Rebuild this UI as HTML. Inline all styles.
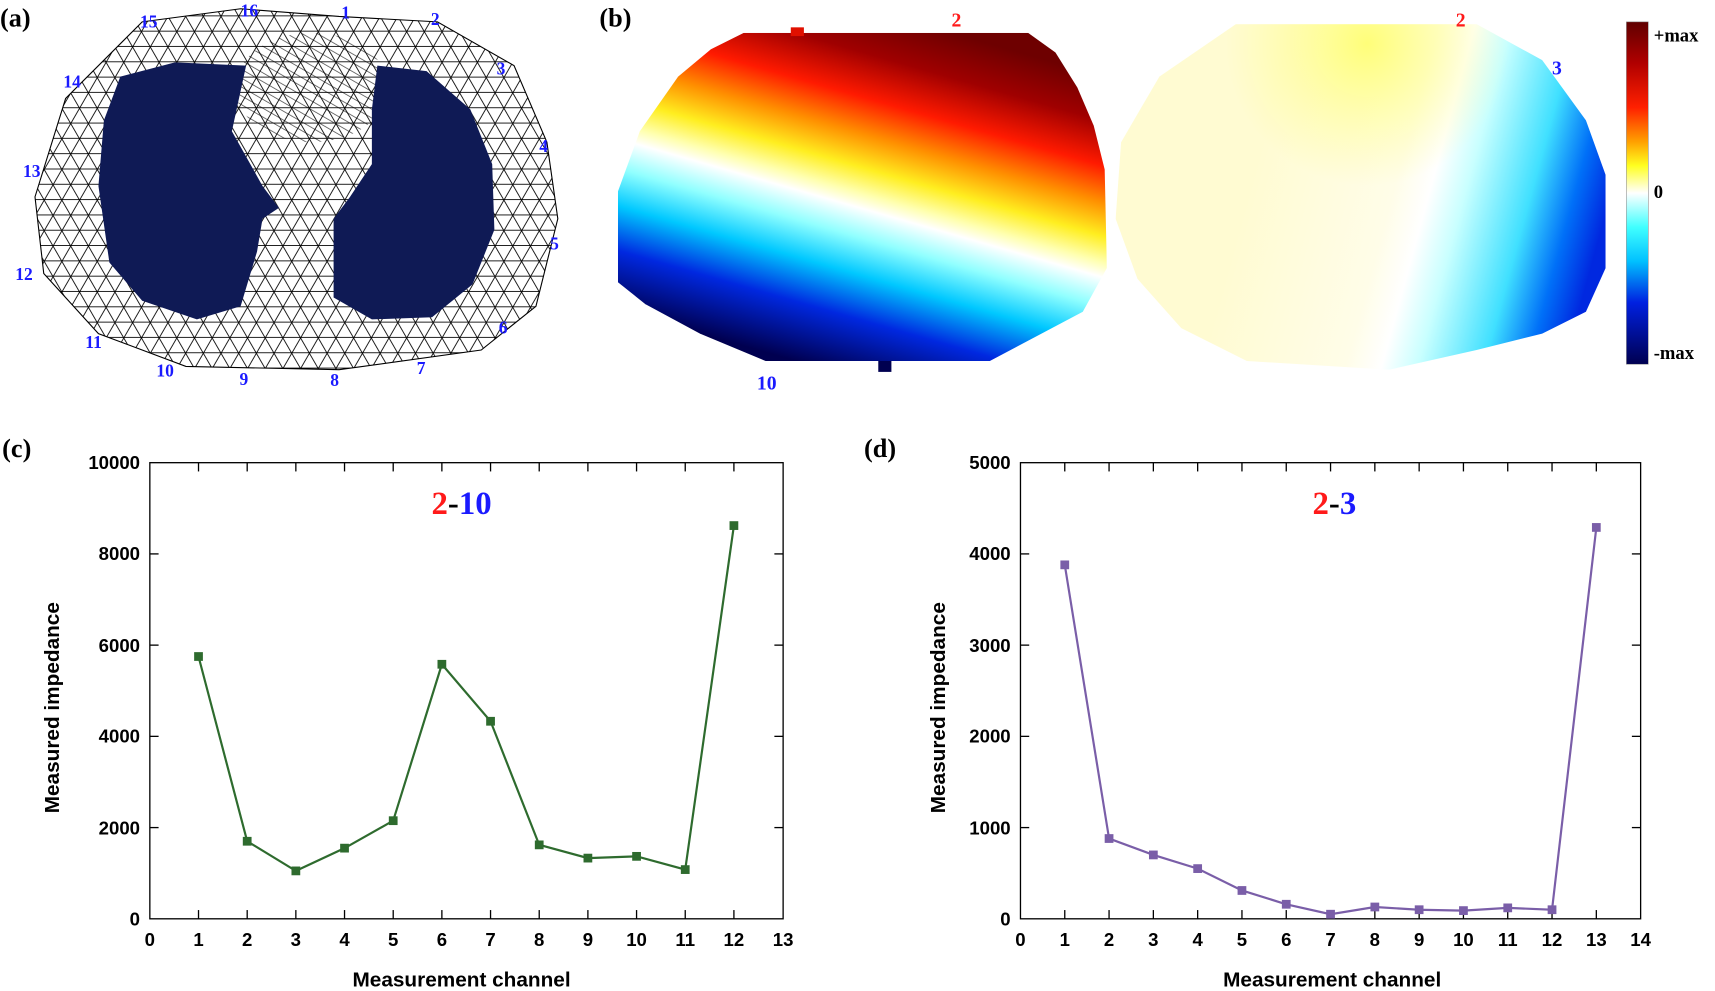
<!DOCTYPE html>
<html><head><meta charset="utf-8"><style>
html,body{margin:0;padding:0;background:#fff;}
svg{display:block;}
.t{font-family:"Liberation Serif",serif;font-weight:bold;}
.s{font-family:"Liberation Sans",sans-serif;font-weight:bold;}
</style></head><body>
<svg width="1715" height="991" viewBox="0 0 1568 906" preserveAspectRatio="none" xmlns="http://www.w3.org/2000/svg">
<defs>
<pattern id="p1" width="16" height="14" patternUnits="userSpaceOnUse"><line x1="0" y1="0.5" x2="16" y2="0.5" stroke="#000" stroke-width="0.7"/></pattern>
<pattern id="p2" width="16" height="14" patternUnits="userSpaceOnUse" patternTransform="rotate(60)"><line x1="0" y1="0.5" x2="16" y2="0.5" stroke="#000" stroke-width="0.7"/></pattern>
<pattern id="p3" width="16" height="14" patternUnits="userSpaceOnUse" patternTransform="rotate(-60)"><line x1="0" y1="0.5" x2="16" y2="0.5" stroke="#000" stroke-width="0.7"/></pattern>
<pattern id="p4" width="8" height="7" patternUnits="userSpaceOnUse" patternTransform="rotate(30)"><line x1="0" y1="0.5" x2="8" y2="0.5" stroke="#000" stroke-width="0.5"/></pattern>
<clipPath id="torso"><polygon points="130,20 220,8 310,15 400,20 470,60 500,130 510,200 490,280 440,320 310,338 170,335 90,305 40,250 32,180 60,90"/></clipPath>
<clipPath id="cl1"><polygon points="680,30 940,30 965,48 985,80 1000,115 1010,155 1012,245 990,285 905,330 700,330 640,305 590,278 565,258 565,175 585,120 620,70 650,45"/></clipPath>
<clipPath id="cl2"><polygon points="1130,22 1350,22 1410,55 1450,110 1468,160 1468,245 1450,285 1410,305 1350,320 1270,338 1140,330 1080,300 1040,255 1020,200 1025,130 1060,70"/></clipPath>
<linearGradient id="g1" gradientUnits="userSpaceOnUse" x1="870" y1="30" x2="780" y2="345">
<stop offset="0" stop-color="#6e0000"/><stop offset="0.12" stop-color="#a00000"/><stop offset="0.24" stop-color="#ff1a00"/><stop offset="0.34" stop-color="#ff9000"/><stop offset="0.43" stop-color="#ffee20"/><stop offset="0.5" stop-color="#ffffb0"/><stop offset="0.54" stop-color="#ffffff"/><stop offset="0.62" stop-color="#90ffff"/><stop offset="0.72" stop-color="#00c8ff"/><stop offset="0.84" stop-color="#0028e0"/><stop offset="1" stop-color="#000050"/></linearGradient>
<linearGradient id="g2" gradientUnits="userSpaceOnUse" x1="1150" y1="140" x2="1460" y2="225">
<stop offset="0" stop-color="#fffbd2"/><stop offset="0.4" stop-color="#fffde8"/><stop offset="0.5" stop-color="#ffffff"/><stop offset="0.6" stop-color="#c8ffff"/><stop offset="0.78" stop-color="#40e0ff"/><stop offset="0.9" stop-color="#0070f8"/><stop offset="1" stop-color="#0028e0"/></linearGradient>
<radialGradient id="g3" gradientUnits="userSpaceOnUse" cx="1250" cy="40" r="130"><stop offset="0" stop-color="#ffff60" stop-opacity="0.8"/><stop offset="1" stop-color="#ffff80" stop-opacity="0"/></radialGradient>
<linearGradient id="cb" x1="0" y1="0" x2="0" y2="1">
<stop offset="0" stop-color="#600000"/><stop offset="0.12" stop-color="#b00000"/><stop offset="0.25" stop-color="#ff2000"/><stop offset="0.35" stop-color="#ffa000"/><stop offset="0.42" stop-color="#ffff20"/><stop offset="0.5" stop-color="#ffffff"/><stop offset="0.6" stop-color="#40ffff"/><stop offset="0.7" stop-color="#00c0ff"/><stop offset="0.82" stop-color="#0020e0"/><stop offset="1" stop-color="#000050"/></linearGradient>
</defs>
<rect width="1568" height="906" fill="#fff"/>
<!-- (a) -->
<g clip-path="url(#torso)">
<rect x="0" y="0" width="540" height="360" fill="url(#p1)"/>
<rect x="0" y="0" width="540" height="360" fill="url(#p2)"/>
<rect x="0" y="0" width="540" height="360" fill="url(#p3)"/>
<ellipse cx="285" cy="80" rx="70" ry="50" fill="url(#p4)"/>
</g>
<polygon points="130,20 220,8 310,15 400,20 470,60 500,130 510,200 490,280 440,320 310,338 170,335 90,305 40,250 32,180 60,90" fill="none" stroke="#000" stroke-width="1"/>
<polygon points="110,70 160,57 225,60 212,120 240,170 255,190 240,200 235,230 220,280 180,292 130,275 100,240 90,170 95,110" fill="#0f1a55"/>
<polygon points="345,60 390,65 430,100 450,150 452,210 432,260 395,290 340,292 305,272 305,200 320,180 340,150 340,100" fill="#0f1a55"/>
<g class="t" fill="#1a1aff" font-size="16">
<text x="312" y="17">1</text><text x="394" y="23">2</text><text x="454" y="68">3</text><text x="493" y="139">4</text><text x="503" y="228">5</text><text x="456" y="305">6</text><text x="381" y="342">7</text><text x="302" y="353">8</text><text x="219" y="352">9</text><text x="143" y="344">10</text><text x="78" y="318">11</text><text x="14" y="256">12</text><text x="21" y="162">13</text><text x="58" y="80">14</text><text x="128" y="25">15</text><text x="220" y="15">16</text>
</g>
<text class="t" x="0" y="24" font-size="24">(a)</text>
<text class="t" x="548" y="24" font-size="24">(b)</text>
<!-- (b) -->
<rect x="560" y="25" width="460" height="320" fill="url(#g1)" clip-path="url(#cl1)"/>
<rect x="723" y="25" width="12" height="8" fill="#e01000"/>
<rect x="803" y="330" width="12" height="10" fill="#000050"/>
<rect x="1015" y="15" width="460" height="330" fill="url(#g2)" clip-path="url(#cl2)"/>
<rect x="1015" y="15" width="460" height="330" fill="url(#g3)" clip-path="url(#cl2)"/>
<text class="t" x="870" y="24" font-size="18" fill="#ff1a1a">2</text>
<text class="t" x="1331" y="24" font-size="18" fill="#ff1a1a">2</text>
<text class="t" x="1419" y="68" font-size="18" fill="#1a1aff">3</text>
<text class="t" x="692" y="356" font-size="18" fill="#1a1aff">10</text>
<rect x="1487" y="20" width="20" height="313" fill="url(#cb)" stroke="#888" stroke-width="0.5"/>
<g class="t" font-size="17"><text x="1512" y="38">+max</text><text x="1512" y="181">0</text><text x="1512" y="328">-max</text></g>
<!-- (c) -->
<text class="t" x="2" y="418" font-size="24">(c)</text>
<rect x="137" y="423" width="579" height="417" fill="none" stroke="#000" stroke-width="1.2"/>
<g stroke="#000" stroke-width="1.2">
<line x1="181.5" y1="423" x2="181.5" y2="431"/><line x1="226" y1="423" x2="226" y2="431"/><line x1="270.5" y1="423" x2="270.5" y2="431"/><line x1="315" y1="423" x2="315" y2="431"/><line x1="359.5" y1="423" x2="359.5" y2="431"/><line x1="404" y1="423" x2="404" y2="431"/><line x1="448.5" y1="423" x2="448.5" y2="431"/><line x1="493" y1="423" x2="493" y2="431"/><line x1="537.5" y1="423" x2="537.5" y2="431"/><line x1="582" y1="423" x2="582" y2="431"/><line x1="626.5" y1="423" x2="626.5" y2="431"/><line x1="671" y1="423" x2="671" y2="431"/>
<line x1="181.5" y1="840" x2="181.5" y2="832"/><line x1="226" y1="840" x2="226" y2="832"/><line x1="270.5" y1="840" x2="270.5" y2="832"/><line x1="315" y1="840" x2="315" y2="832"/><line x1="359.5" y1="840" x2="359.5" y2="832"/><line x1="404" y1="840" x2="404" y2="832"/><line x1="448.5" y1="840" x2="448.5" y2="832"/><line x1="493" y1="840" x2="493" y2="832"/><line x1="537.5" y1="840" x2="537.5" y2="832"/><line x1="582" y1="840" x2="582" y2="832"/><line x1="626.5" y1="840" x2="626.5" y2="832"/><line x1="671" y1="840" x2="671" y2="832"/>
<line x1="137" y1="506.4" x2="145" y2="506.4"/><line x1="137" y1="589.8" x2="145" y2="589.8"/><line x1="137" y1="673.2" x2="145" y2="673.2"/><line x1="137" y1="756.6" x2="145" y2="756.6"/>
<line x1="716" y1="506.4" x2="708" y2="506.4"/><line x1="716" y1="589.8" x2="708" y2="589.8"/><line x1="716" y1="673.2" x2="708" y2="673.2"/><line x1="716" y1="756.6" x2="708" y2="756.6"/>
</g>
<g class="s" font-size="17" text-anchor="end"><text x="128" y="429">10000</text><text x="128" y="512">8000</text><text x="128" y="596">6000</text><text x="128" y="679">4000</text><text x="128" y="763">2000</text><text x="128" y="846">0</text></g>
<g class="s" font-size="17" text-anchor="middle"><text x="137" y="865">0</text><text x="181.5" y="865">1</text><text x="226" y="865">2</text><text x="270.5" y="865">3</text><text x="315" y="865">4</text><text x="359.5" y="865">5</text><text x="404" y="865">6</text><text x="448.5" y="865">7</text><text x="493" y="865">8</text><text x="537.5" y="865">9</text><text x="582" y="865">10</text><text x="626.5" y="865">11</text><text x="671" y="865">12</text><text x="716" y="865">13</text></g>
<text class="s" x="422" y="902" font-size="19" text-anchor="middle">Measurement channel</text>
<text class="s" x="54" y="647" font-size="19" text-anchor="middle" transform="rotate(-90 54 647)">Measured impedance</text>
<text class="t" x="422" y="470" font-size="30" text-anchor="middle"><tspan fill="#ff1a1a">2</tspan><tspan fill="#000">-</tspan><tspan fill="#1a1aff">10</tspan></text>
<polyline fill="none" stroke="#2e6b2e" stroke-width="2" points="181.5,600.2 226,769.1 270.5,796.2 315,775.4 359.5,750.3 404,607.3 448.5,659.4 493,772.4 537.5,784.5 582,782.9 626.5,795 671,480.5"/>
<g fill="#2e6b2e"><rect x="177.5" y="596.2" width="8" height="8"/><rect x="222" y="765.1" width="8" height="8"/><rect x="266.5" y="792.2" width="8" height="8"/><rect x="311" y="771.4" width="8" height="8"/><rect x="355.5" y="746.3" width="8" height="8"/><rect x="400" y="603.3" width="8" height="8"/><rect x="444.5" y="655.4" width="8" height="8"/><rect x="489" y="768.4" width="8" height="8"/><rect x="533.5" y="780.5" width="8" height="8"/><rect x="578" y="778.9" width="8" height="8"/><rect x="622.5" y="791" width="8" height="8"/><rect x="667" y="476.5" width="8" height="8"/></g>
<!-- (d) -->
<text class="t" x="790" y="418" font-size="24">(d)</text>
<rect x="933" y="423" width="567" height="417" fill="none" stroke="#000" stroke-width="1.2"/>
<g stroke="#000" stroke-width="1.2">
<line x1="973.5" y1="423" x2="973.5" y2="431"/><line x1="1014" y1="423" x2="1014" y2="431"/><line x1="1054.5" y1="423" x2="1054.5" y2="431"/><line x1="1095" y1="423" x2="1095" y2="431"/><line x1="1135.5" y1="423" x2="1135.5" y2="431"/><line x1="1176" y1="423" x2="1176" y2="431"/><line x1="1216.5" y1="423" x2="1216.5" y2="431"/><line x1="1257" y1="423" x2="1257" y2="431"/><line x1="1297.5" y1="423" x2="1297.5" y2="431"/><line x1="1338" y1="423" x2="1338" y2="431"/><line x1="1378.5" y1="423" x2="1378.5" y2="431"/><line x1="1419" y1="423" x2="1419" y2="431"/><line x1="1459.5" y1="423" x2="1459.5" y2="431"/>
<line x1="973.5" y1="840" x2="973.5" y2="832"/><line x1="1014" y1="840" x2="1014" y2="832"/><line x1="1054.5" y1="840" x2="1054.5" y2="832"/><line x1="1095" y1="840" x2="1095" y2="832"/><line x1="1135.5" y1="840" x2="1135.5" y2="832"/><line x1="1176" y1="840" x2="1176" y2="832"/><line x1="1216.5" y1="840" x2="1216.5" y2="832"/><line x1="1257" y1="840" x2="1257" y2="832"/><line x1="1297.5" y1="840" x2="1297.5" y2="832"/><line x1="1338" y1="840" x2="1338" y2="832"/><line x1="1378.5" y1="840" x2="1378.5" y2="832"/><line x1="1419" y1="840" x2="1419" y2="832"/><line x1="1459.5" y1="840" x2="1459.5" y2="832"/>
<line x1="933" y1="506.4" x2="941" y2="506.4"/><line x1="933" y1="589.8" x2="941" y2="589.8"/><line x1="933" y1="673.2" x2="941" y2="673.2"/><line x1="933" y1="756.6" x2="941" y2="756.6"/>
<line x1="1500" y1="506.4" x2="1492" y2="506.4"/><line x1="1500" y1="589.8" x2="1492" y2="589.8"/><line x1="1500" y1="673.2" x2="1492" y2="673.2"/><line x1="1500" y1="756.6" x2="1492" y2="756.6"/>
</g>
<g class="s" font-size="17" text-anchor="end"><text x="924" y="429">5000</text><text x="924" y="512">4000</text><text x="924" y="596">3000</text><text x="924" y="679">2000</text><text x="924" y="763">1000</text><text x="924" y="846">0</text></g>
<g class="s" font-size="17" text-anchor="middle"><text x="933" y="865">0</text><text x="973.5" y="865">1</text><text x="1014" y="865">2</text><text x="1054.5" y="865">3</text><text x="1095" y="865">4</text><text x="1135.5" y="865">5</text><text x="1176" y="865">6</text><text x="1216.5" y="865">7</text><text x="1257" y="865">8</text><text x="1297.5" y="865">9</text><text x="1338" y="865">10</text><text x="1378.5" y="865">11</text><text x="1419" y="865">12</text><text x="1459.5" y="865">13</text><text x="1500" y="865">14</text></g>
<text class="s" x="1218" y="902" font-size="19" text-anchor="middle">Measurement channel</text>
<text class="s" x="864" y="647" font-size="19" text-anchor="middle" transform="rotate(-90 864 647)">Measured impedance</text>
<text class="t" x="1220" y="470" font-size="30" text-anchor="middle"><tspan fill="#ff1a1a">2</tspan><tspan fill="#000">-</tspan><tspan fill="#1a1aff">3</tspan></text>
<polyline fill="none" stroke="#7a5ea8" stroke-width="2" points="973.5,516.4 1014,766.6 1054.5,781.6 1095,794.1 1135.5,814.1 1176,826.7 1216.5,835.8 1257,829.2 1297.5,831.7 1338,832.5 1378.5,830 1419,831.7 1459.5,482.2"/>
<g fill="#7a5ea8"><rect x="969.5" y="512.4" width="8" height="8"/><rect x="1010" y="762.6" width="8" height="8"/><rect x="1050.5" y="777.6" width="8" height="8"/><rect x="1091" y="790.1" width="8" height="8"/><rect x="1131.5" y="810.1" width="8" height="8"/><rect x="1172" y="822.7" width="8" height="8"/><rect x="1212.5" y="831.8" width="8" height="8"/><rect x="1253" y="825.2" width="8" height="8"/><rect x="1293.5" y="827.7" width="8" height="8"/><rect x="1334" y="828.5" width="8" height="8"/><rect x="1374.5" y="826" width="8" height="8"/><rect x="1415" y="827.7" width="8" height="8"/><rect x="1455.5" y="478.2" width="8" height="8"/></g>
</svg>
</body></html>
